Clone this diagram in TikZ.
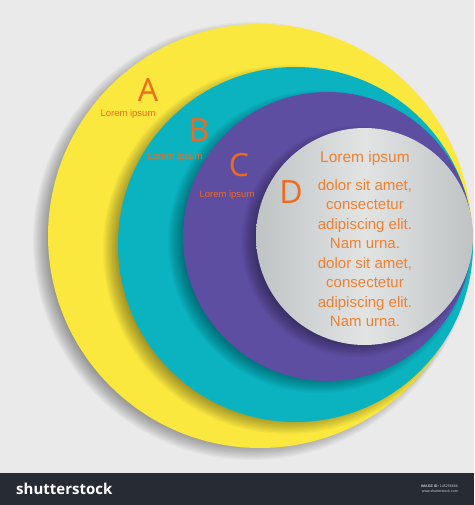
\documentclass[tikz,border=0pt]{standalone}
\usepackage{fontspec}
\setmainfont{Liberation Sans}
\newfontfamily\letterfont{Open Sans}
\newfontfamily\logofont{Open Sans}
\definecolor{bgc}{HTML}{EAEAEA}
\definecolor{ycol}{HTML}{FAE83E}
\definecolor{tcol}{HTML}{0BB3C1}
\definecolor{pcol}{HTML}{5E4EA2}
\definecolor{gcolA}{HTML}{BFC3C4}
\definecolor{gcolB}{HTML}{E2E4E4}
\definecolor{ocol}{HTML}{F06A1E}
\definecolor{otext}{HTML}{EE8030}
\definecolor{barc}{HTML}{262B34}
\newcommand\softshade[3]{%
  \foreach \k in {0,...,13}{%
    \fill[black, opacity=0.032] (#1-8,#2+5) circle[radius={(#3+7-\k*1.3)*1pt}];
  }%
}
\tikzset{
  disc/.style={circle, inner sep=0pt, outer sep=0pt, draw=none},
  bigletter/.style={text=ocol, font=\letterfont\fontsize{32}{32}\selectfont, inner sep=0pt},
  smalllabel/.style={text=ocol, font=\fontsize{9.5}{10}\selectfont, inner sep=0pt},
  bodytext/.style={text=otext, font=\fontsize{15}{19.5}\selectfont, align=center, inner sep=0pt}
}
\begin{document}
\begin{tikzpicture}[x=1pt,y=-1pt]
\fill[bgc] (0,0) rectangle (474,505);
\useasboundingbox (0,0) rectangle (474,505);
\softshade{260}{236}{212}
\node[disc, fill=ycol, minimum size=424pt] (yc) at (260,236) {};
\softshade{295.5}{244.5}{177.5}
\node[disc, fill=tcol, minimum size=355pt] (tc) at (295.5,244.5) {};
\softshade{327.5}{236.5}{144.5}
\node[disc, fill=pcol, minimum size=289pt] (pc) at (327.5,236.5) {};
\softshade{364.5}{236.5}{108.5}
\node[disc, left color=gcolA, right color=gcolA, middle color=gcolB, minimum size=217pt] (gc) at (364.5,236.5) {};
% letters and labels
\node[bigletter] (la) at (148,90) {A};
\node[smalllabel] (lta) at (128,114) {Lorem ipsum};
\node[bigletter] (lb) at (199,130) {B};
\node[smalllabel] (ltb) at (175,157) {Lorem ipsum};
\node[bigletter] (lc) at (239,165) {C};
\node[smalllabel] (ltc) at (227,195) {Lorem ipsum};
\node[bigletter] (ld) at (291,192) {D};
\node[bodytext, font=\fontsize{15.5}{18}\selectfont] (tt) at (365,158) {Lorem ipsum};
\node[bodytext, anchor=north] (body) at (365,179) {dolor sit amet,\\consectetur\\adipiscing elit.\\Nam urna.\\dolor sit amet,\\consectetur\\adipiscing elit.\\Nam urna.};
% bottom bar
\fill[barc] (0,473) rectangle (474,505);
\node[text=white, font=\logofont\bfseries\fontsize{15}{15}\selectfont, anchor=west, inner sep=0pt] (logo) at (16,489) {shutterstock};
\node[text=white!75!barc, font=\fontsize{3.6}{5}\selectfont, anchor=east, align=right, inner sep=0pt] (imgid) at (458,489) {\textbf{IMAGE ID:} 145256686\\www.shutterstock.com};
\end{tikzpicture}
\end{document}
